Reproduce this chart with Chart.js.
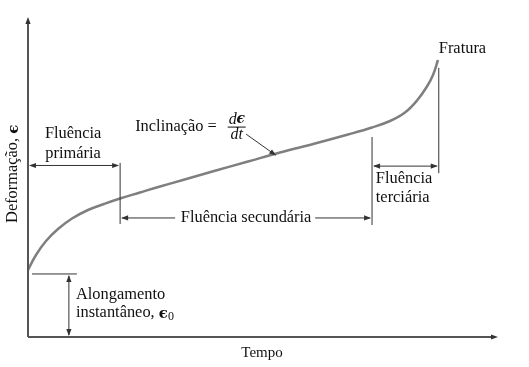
<!DOCTYPE html>
<html>
<head>
<meta charset="utf-8">
<script src="https://cdn.jsdelivr.net/npm/chart.js@4.4.1/dist/chart.umd.min.js"></script>
<style>
  html, body { margin: 0; padding: 0; background: #fff; }
  #wrap { width: 529px; height: 367px; }
</style>
</head>
<body>
<div id="wrap"><canvas id="grafico"></canvas></div>
<script>
// curva de fluencia (unidades arbitrarias, 0-100)
const tempo = [0, 1.7, 3.83, 6.38, 9.36, 12.77, 16.17, 19.57, 23.83, 28.09, 32.77, 39.79, 46.81, 53.62, 61.06, 68.09, 73.19, 77.02, 80.21, 82.77, 84.89, 86.17, 87.23]
const deformacao = [20.94, 25.63, 30.0, 33.75, 37.03, 39.69, 41.56, 43.28, 45.16, 47.03, 48.97, 51.94, 54.84, 57.66, 60.47, 63.28, 65.47, 67.5, 70.16, 73.91, 78.28, 81.88, 86.56]

// limites das fases (tempo) e alongamento instantaneo
const limites = [0, 19.6, 73.2, 87.4]
const eps0 = 19.7

const rotulos = {
    x: "Tempo",
    y: "Deformação, ",
    primaria: ["Fluência", "primária"],
    secundaria: "Fluência secundária",
    terciaria: ["Fluência", "terciária"],
    fratura: "Fratura",
    inclinacao: "Inclinação =",
    alongamento: ["Alongamento", "instantâneo, "]
}

const fonte = '16.4px "Liberation Serif", "Times New Roman", serif'
const fonteEps = 'bold 15px "DejaVu Serif", serif'

function seta(ctx, x1, y1, x2, y2) {
    const ang = Math.atan2(y2 - y1, x2 - x1)
    const L = 7, W = 2.6
    ctx.beginPath()
    ctx.moveTo(x2, y2)
    ctx.lineTo(x2 - L * Math.cos(ang) + W * Math.sin(ang), y2 - L * Math.sin(ang) - W * Math.cos(ang))
    ctx.lineTo(x2 - L * Math.cos(ang) - W * Math.sin(ang), y2 - L * Math.sin(ang) + W * Math.cos(ang))
    ctx.closePath()
    ctx.fill()
}

function linha(ctx, x1, y1, x2, y2) {
    ctx.beginPath()
    ctx.moveTo(x1, y1)
    ctx.lineTo(x2, y2)
    ctx.stroke()
}

const anotacoes = {
    id: 'anotacoes',
    afterDatasetsDraw(chart) {
        const ctx = chart.ctx
        const sx = chart.scales.x, sy = chart.scales.y
        const X = v => sx.getPixelForValue(v)
        const Y = v => sy.getPixelForValue(v)
        const a = chart.chartArea

        ctx.save()
        // eixos
        ctx.strokeStyle = '#555'
        ctx.fillStyle = '#333'
        ctx.lineWidth = 2
        linha(ctx, a.left, a.bottom, a.right - 4, a.bottom)
        linha(ctx, a.left, a.bottom, a.left, a.top + 4)
        seta(ctx, a.left, a.bottom, a.right, a.bottom)
        seta(ctx, a.left, a.bottom, a.left, a.top)

        ctx.strokeStyle = '#333'
        ctx.lineWidth = 1
        const x0 = X(limites[0]), x1 = X(limites[1]), x2 = X(limites[2]), x3 = X(limites[3])

        // primaria
        linha(ctx, x1, Y(54.4), x1, Y(35.3))
        const yp = Y(53.6)
        linha(ctx, x0 + 2, yp, x1 - 2, yp)
        seta(ctx, x1, yp, x0 + 1, yp)
        seta(ctx, x0, yp, x1 - 1, yp)

        // secundaria
        linha(ctx, x2, Y(62.5), x2, Y(35))
        const ys = Y(37.2)
        linha(ctx, x1 + 2, ys, X(31.3), ys)
        linha(ctx, X(61.1), ys, x2 - 2, ys)
        seta(ctx, x2, ys, x1 + 1, ys)
        seta(ctx, x1, ys, x2 - 1, ys)

        // terciaria
        linha(ctx, x3, Y(84.1), x3, Y(51.2))
        const yt = Y(53.4)
        linha(ctx, x2 + 2, yt, x3 - 2, yt)
        seta(ctx, x3, yt, x2 + 1, yt)
        seta(ctx, x2, yt, x3 - 1, yt)

        // alongamento instantaneo
        linha(ctx, X(0.85), Y(eps0), X(10.4), Y(eps0))
        const xa = X(8.7)
        linha(ctx, xa, Y(eps0) + 2, xa, Y(0) - 2)
        seta(ctx, xa, Y(0), xa, Y(eps0) + 1)
        seta(ctx, xa, Y(eps0), xa, Y(0) - 1)

        // inclinacao
        linha(ctx, X(46.4), Y(63.4), X(52.6), Y(56.9))
        seta(ctx, X(46.4), Y(63.4), X(52.8), Y(56.7))

        // textos
        ctx.fillStyle = '#111'
        ctx.font = fonte
        ctx.textBaseline = 'middle'
        ctx.textAlign = 'center'
        ctx.fillText(rotulos.primaria[0], X(9.6), Y(63.4))
        ctx.fillText(rotulos.primaria[1], X(9.6), Y(57.4))
        ctx.fillText(rotulos.secundaria, X(46.4), Y(37.4))
        ctx.font = '15px "Liberation Serif", serif'
        ctx.fillText(rotulos.x, X(49.8), a.bottom + 16)
        ctx.font = fonte

        ctx.textAlign = 'left'
        ctx.fillText(rotulos.terciaria[0], X(74.0), Y(49.4))
        ctx.fillText(rotulos.terciaria[1], X(74.0), Y(43.4))
        ctx.fillText(rotulos.fratura, X(87.4), Y(90.0))
        ctx.fillText(rotulos.inclinacao, X(22.8), Y(65.6))
        ctx.fillText(rotulos.alongamento[0], X(10.2), Y(13.1))
        ctx.fillText(rotulos.alongamento[1], X(10.2), Y(7.5))
        const wl = ctx.measureText(rotulos.alongamento[1]).width
        ctx.font = fonteEps
        ctx.fillText('ϵ', X(10.2) + wl, Y(7.5) + 1)
        const we = ctx.measureText('ϵ').width
        ctx.font = '12px "Liberation Serif", serif'
        ctx.fillText('0', X(10.2) + wl + we, Y(7.5) + 4)

        // fracao d(eps)/dt
        ctx.textAlign = 'center'
        const xf = X(44.4)
        ctx.font = 'italic 16px "Liberation Serif", serif'
        ctx.fillText('d', xf - 4, Y(68.0))
        ctx.font = 'italic bold 14px "DejaVu Serif", serif'
        ctx.fillText('ϵ', xf + 4, Y(68.0))
        ctx.font = 'italic 16px "Liberation Serif", serif'
        ctx.fillText('dt', xf, Y(63.2))
        ctx.lineWidth = 1
        ctx.strokeStyle = '#111'
        linha(ctx, xf - 9, Y(65.6), xf + 9, Y(65.6))

        // titulo do eixo y
        ctx.translate(13, Y(51))
        ctx.rotate(-Math.PI / 2)
        ctx.font = fonte
        const wy = ctx.measureText(rotulos.y).width
        ctx.font = fonteEps
        const wey = ctx.measureText('ϵ').width
        const ini = -(wy + wey) / 2
        ctx.textAlign = 'left'
        ctx.font = fonte
        ctx.fillText(rotulos.y, ini, 0)
        ctx.font = fonteEps
        ctx.fillText('ϵ', ini + wy, 1)
        ctx.restore()
    }
}

const grafico = new Chart(document.getElementById('grafico'), {
    type: 'line',
    data: {
        datasets: [{
            label: 'Fluência',
            data: tempo.map((t, i) => ({ x: t, y: deformacao[i] })),
            borderColor: '#7f7f7f',
            borderWidth: 2.5,
            pointRadius: 0,
            tension: 0.4,
            fill: false
        }]
    },
    options: {
        responsive: true,
        maintainAspectRatio: false,
        animation: false,
        layout: { padding: { left: 28, top: 17, right: 31, bottom: 30 } },
        plugins: { legend: { display: false }, tooltip: { enabled: false } },
        scales: {
            x: { type: 'linear', min: 0, max: 100, display: false },
            y: { type: 'linear', min: 0, max: 100, display: false }
        }
    },
    plugins: [anotacoes]
})
</script>
</body>
</html>
